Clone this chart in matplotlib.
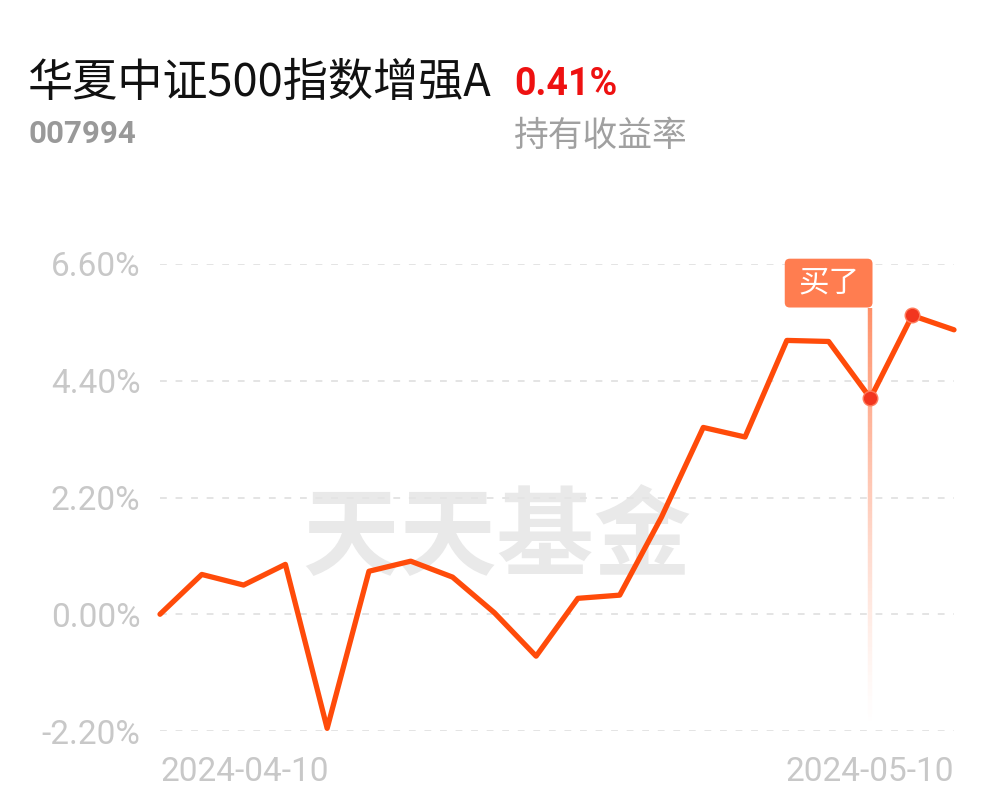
import matplotlib.pyplot as plt
import numpy as np
from matplotlib.patches import FancyBboxPatch
from matplotlib.collections import LineCollection

plt.rcParams['font.family'] = ['Noto Sans CJK SC', 'DejaVu Sans']

# fund info
fund_name = "华夏中证500指数增强A"
fund_code = "007994"
hold_return = "0.41%"
hold_label = "持有收益率"

# daily cumulative return (%), trading days 2024-04-10 .. 2024-05-10
dates = ["2024-04-10", "2024-04-11", "2024-04-12", "2024-04-15", "2024-04-16",
         "2024-04-17", "2024-04-18", "2024-04-19", "2024-04-22", "2024-04-23",
         "2024-04-24", "2024-04-25", "2024-04-26", "2024-04-29", "2024-04-30",
         "2024-05-06", "2024-05-07", "2024-05-08", "2024-05-09", "2024-05-10"]
returns = [0.00, 0.75, 0.55, 0.94, -2.15, 0.81, 1.00, 0.70, 0.03, -0.79,
           0.30, 0.36, 1.83, 3.52, 3.34, 5.16, 5.14, 4.07, 5.63, 5.36]
y_ticks = [-2.2, 0.0, 2.2, 4.4, 6.6]
buy_index = 17
dot_indices = [17, 18]

line_color = "#FF4B0A"
tag_color = "#FF7D50"

fig = plt.figure(figsize=(9.97, 8.02), dpi=100)
fig.patch.set_facecolor("white")

# axes placed so that x 0..19 spans px 160..954 and y -2.2..6.6 spans px 731..264
ax = fig.add_axes([160 / 997, 71 / 802, 794 / 997, 467 / 802])
x = np.arange(len(returns))
ax.set_xlim(0, len(returns) - 1)
ax.set_ylim(y_ticks[0], y_ticks[-1])

for s in ax.spines.values():
    s.set_visible(False)

ax.set_yticks(y_ticks)
ax.set_yticklabels([f"{v:.2f}%" for v in y_ticks])
ax.set_xticks([0, len(returns) - 1])
ax.set_xticklabels([dates[0], dates[-1]])
xl = ax.get_xticklabels()
xl[0].set_ha("left")
xl[1].set_ha("right")
ax.tick_params(axis="y", length=0, pad=14, labelsize=24, labelcolor="#C8C8C8")
ax.tick_params(axis="x", length=0, pad=18, labelsize=24, labelcolor="#C8C8C8")
for lab in ax.get_xticklabels() + ax.get_yticklabels():
    lab.set_family(["Roboto", "DejaVu Sans"])

ax.yaxis.grid(True, linestyle=(0, (3.5, 4.5)), color="#E4E4E4", linewidth=1.4)
ax.set_axisbelow(True)

# watermark
ax.text(8.06, 1.40, "天天基金", fontsize=70, fontweight="bold", color="#E9E9E9",
        ha="center", va="center", zorder=0.5)

# buy marker: fading vertical line + tag
top_v, bot_v = 5.78, -2.07
ys = np.linspace(top_v, bot_v, 120)
segs = [[(buy_index, ys[i]), (buy_index, ys[i + 1])] for i in range(len(ys) - 1)]
alphas = 0.85 * ((ys[:-1] - bot_v) / (top_v - bot_v)) ** 1.3
cols = [(1.0, 0.49, 0.31, a) for a in alphas]
ax.add_collection(LineCollection(segs, colors=cols, linewidths=3.2, zorder=2, clip_on=False))

tag = FancyBboxPatch((buy_index - 2.05, 5.78), 2.1, 0.92,
                     boxstyle="round,pad=0,rounding_size=0.12", mutation_aspect=0.79,
                     facecolor=tag_color, edgecolor="none", zorder=3, clip_on=False)
ax.add_patch(tag)
ax.text(buy_index - 1.0, 6.24, "买了", fontsize=22, color="white", ha="center", va="center", zorder=4)

# return line
ax.plot(x, returns, color=line_color, linewidth=3.8, solid_joinstyle="round",
        solid_capstyle="round", zorder=5, clip_on=False)
ax.plot([x[i] for i in dot_indices], [returns[i] for i in dot_indices], linestyle="none",
        marker="o", markersize=10.5, color="#F2361F", markeredgecolor="#FF7A5A",
        markeredgewidth=1, zorder=6, clip_on=False)

# header
fig.text(28 / 997, 1 - 96 / 802, fund_name, fontsize=32.5, color="#111111", ha="left", va="baseline")
fig.text(514 / 997, 1 - 95 / 802, hold_return, fontsize=27, fontweight="bold", color="#EE1111",
         ha="left", va="baseline", family=["Roboto", "DejaVu Sans"])
fig.text(28 / 997, 1 - 143 / 802, fund_code, fontsize=22.5, fontweight="bold", color="#999999",
         ha="left", va="baseline", family=["Roboto", "DejaVu Sans"])
fig.text(514 / 997, 1 - 146 / 802, hold_label, fontsize=25, color="#A0A0A0", ha="left", va="baseline")

fig.savefig("out.png", dpi=100, facecolor="white")
